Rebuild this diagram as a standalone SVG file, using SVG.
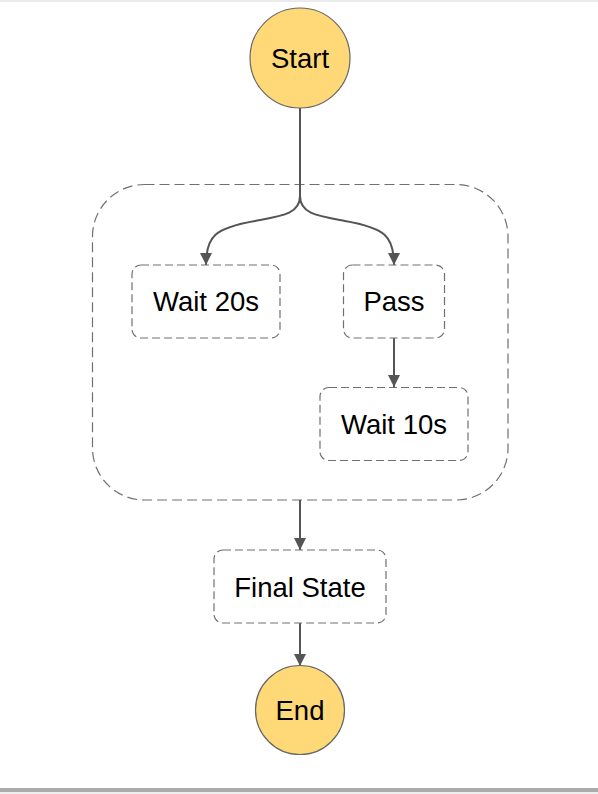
<svg xmlns="http://www.w3.org/2000/svg" width="598" height="794" viewBox="0 0 598 794">
<defs>
<marker id="arr" viewBox="0 0 12 12" refX="12" refY="6" markerWidth="12" markerHeight="12" markerUnits="userSpaceOnUse" orient="auto">
<path d="M0,0 L12,6 L0,12 Z" fill="#555"/>
</marker>
<style>
.lbl{font-family:"Liberation Sans",Arial,sans-serif;font-size:27.5px;fill:#000;text-anchor:middle}
.state{fill:#fff;stroke:#707070;stroke-width:1.2;stroke-dasharray:8,4}
.term{fill:#ffd978;stroke:#666;stroke-width:1.2}
.edge{fill:none;stroke:#555;stroke-width:2;marker-end:url(#arr)}
</style>
</defs>
<rect x="0" y="0" width="598" height="794" fill="#fff"/>
<rect x="0" y="0" width="598" height="2" fill="#ebebeb"/>
<rect x="0" y="788" width="598" height="4" fill="#aaa"/>
<rect x="0" y="792" width="598" height="2" fill="#eee"/>
<g id="parallel">
<rect x="92.5" y="184.5" width="415.5" height="315.5" rx="52" ry="52" fill="none" stroke="#707070" stroke-width="1.2" stroke-dasharray="10,5"/>
</g>
<g id="connectors">
<path class="edge" d="M300,108 V196 C300,214 282,216 255,221 C215,228 206,236 206,265"/>
<path class="edge" d="M300,108 V196 C300,214 318,216 345,221 C385,228 394,236 394,265"/>
<path class="edge" d="M394,338 V387"/>
<path class="edge" d="M300,500 V550"/>
<path class="edge" d="M300,623 V666"/>
</g>
<g id="start">
<circle class="term" cx="300" cy="58" r="50"/>
<text class="lbl" x="300" y="67.5">Start</text>
</g>
<g id="wait20">
<rect class="state" x="132" y="265" width="148" height="73" rx="9"/>
<text class="lbl" x="206" y="311">Wait 20s</text>
</g>
<g id="pass">
<rect class="state" x="343.5" y="265" width="101" height="73" rx="9"/>
<text class="lbl" x="394" y="311">Pass</text>
</g>
<g id="wait10">
<rect class="state" x="320" y="387.5" width="148" height="73" rx="9"/>
<text class="lbl" x="394" y="433.5">Wait 10s</text>
</g>
<g id="final">
<rect class="state" x="214" y="550" width="172" height="73" rx="9"/>
<text class="lbl" x="300" y="596.5">Final State</text>
</g>
<g id="end">
<circle class="term" cx="300" cy="710" r="44.5"/>
<text class="lbl" x="300" y="719.5">End</text>
</g>
</svg>
